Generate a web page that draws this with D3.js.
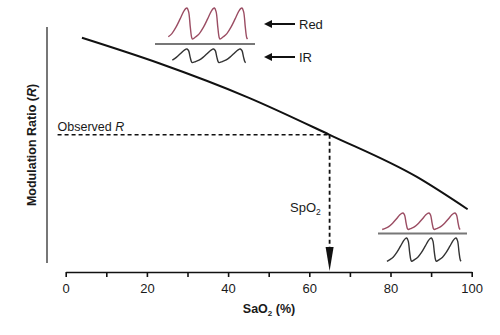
<!DOCTYPE html>
<html><head><meta charset="utf-8">
<script src="https://cdn.jsdelivr.net/npm/d3@7"></script>
<style>body{margin:0;background:#fff}svg{display:block}text{font-family:"Liberation Sans",Arial,sans-serif}</style>
</head><body>
<script>
// calibration curve: SaO2 (%) vs modulation ratio R
const sao2 = [4, 23, 45, 65, 86.5, 99];
const ratioR = [2.39, 2.13, 1.78, 1.40, 0.97, 0.64];
const observedR = 1.40;
const observedSpO2 = 65;
const xTicks = [0,10,20,30,40,50,60,70,80,90,100];
const xTickLabels = ["0","","20","","40","","60","","80","","100"];
// one pulse (phase 0..1, normalised amplitude 0..1); peak near phase 0.8
const pulsePhase = [0, 0.12, 0.25, 0.4, 0.55, 0.67, 0.75, 0.8, 0.86, 0.92, 0.97];
const pulseLevel = [0.03, 0.1, 0.2, 0.4, 0.66, 0.88, 0.98, 1.0, 0.88, 0.4, 0.08];

const W = 500, H = 335;
const svg = d3.select("body").append("svg").attr("width", W).attr("height", H);

const x = d3.scaleLinear().domain([0, 100]).range([65.7, 471.7]);
const y = d3.scaleLinear().domain([0, 2.5]).range([272, 27]);

// y axis line (no ticks)
svg.append("line").attr("x1", 47).attr("x2", 47).attr("y1", 27).attr("y2", 263)
  .attr("stroke", "#777").attr("stroke-width", 2);

// x axis
const xa = svg.append("g").attr("transform", `translate(0,${y(0)})`)
  .call(d3.axisBottom(x).tickValues(xTicks).tickSize(5).tickSizeOuter(0)
    .tickFormat((d, i) => xTickLabels[i]));
xa.select(".domain").attr("stroke", "#111").attr("stroke-width", 1.6);
xa.selectAll(".tick line").attr("stroke", "#111").attr("stroke-width", 1.6);
xa.selectAll(".tick text").attr("font-size", 13).attr("fill", "#1a1a1a")
  .attr("font-family", "Liberation Sans, Arial, sans-serif").attr("dy", "0").attr("y", 21);

// axis titles
const xt = svg.append("text").attr("x", 269).attr("y", 313).attr("text-anchor", "middle")
  .attr("font-size", 12.5).attr("font-weight", "bold").attr("fill", "#1a1a1a");
xt.append("tspan").text("SaO");
xt.append("tspan").text("2").attr("font-size", 8).attr("dy", 3);
xt.append("tspan").text(" (%)").attr("dy", -3);

const yt = svg.append("text").attr("transform", "translate(36,145) rotate(-90)")
  .attr("text-anchor", "middle").attr("font-size", 12.5).attr("font-weight", "bold").attr("fill", "#1a1a1a");
yt.append("tspan").text("Modulation Ratio (");
yt.append("tspan").text("R").attr("font-style", "italic");
yt.append("tspan").text(")");

// calibration curve
const curve = d3.line().x((d, i) => x(sao2[i])).y((d, i) => y(ratioR[i])).curve(d3.curveMonotoneX);
svg.append("path").attr("d", curve(sao2)).attr("fill", "none").attr("stroke", "#111").attr("stroke-width", 2);

// observed R dashed lines
svg.append("line").attr("x1", x(-2)).attr("x2", x(observedSpO2)).attr("y1", y(observedR)).attr("y2", y(observedR))
  .attr("stroke", "#111").attr("stroke-width", 1.6).attr("stroke-dasharray", "4,3");
svg.append("line").attr("x1", x(observedSpO2)).attr("x2", x(observedSpO2)).attr("y1", y(observedR)).attr("y2", y(0) - 24)
  .attr("stroke", "#111").attr("stroke-width", 1.8).attr("stroke-dasharray", "4,3");
svg.append("path").attr("d", `M${x(observedSpO2)-4},${y(0)-25} L${x(observedSpO2)+4},${y(0)-25} L${x(observedSpO2)},${y(0)-1} Z`)
  .attr("fill", "#111");

const ot = svg.append("text").attr("x", x(-2)).attr("y", 131).attr("font-size", 12.5).attr("fill", "#1a1a1a");
ot.append("tspan").text("Observed ");
ot.append("tspan").text("R").attr("font-style", "italic");

const st = svg.append("text").attr("x", 290).attr("y", 212).attr("font-size", 13).attr("fill", "#1a1a1a");
st.append("tspan").text("SpO");
st.append("tspan").text("2").attr("font-size", 8.5).attr("dy", 3);

// waveform insets
function wave(xPeak1, period, tStart, tEnd, yTrough, yPeak, color) {
  const pts = [];
  for (let c = Math.floor(tStart) - 1; c <= Math.ceil(tEnd); c++) {
    for (let k = 0; k < pulsePhase.length; k++) {
      const t = c + pulsePhase[k];
      if (t >= tStart - 0.03 && t <= tEnd + 0.03) pts.push([t, pulseLevel[k]]);
    }
  }
  const sx = d3.scaleLinear().domain([0.8, 1.8]).range([xPeak1, xPeak1 + period]);
  const sy = d3.scaleLinear().domain([0, 1]).range([yTrough, yPeak]);
  svg.append("path").attr("d", d3.line().x(d => sx(d[0])).y(d => sy(d[1])).curve(d3.curveCatmullRom)(pts))
    .attr("fill", "none").attr("stroke", color).attr("stroke-width", 1.4).attr("stroke-linejoin", "round");
}
const redCol = "#9b4d63", irCol = "#333";
wave(187, 27.5, 0.15, 2.97, 40, 8, redCol);
svg.append("line").attr("x1", 155).attr("x2", 255).attr("y1", 44).attr("y2", 44).attr("stroke", "#777").attr("stroke-width", 2);
wave(187, 26.7, 0.16, 3.0, 63, 49, irCol);

wave(403, 26, 0.03, 3.0, 230, 213, redCol);
svg.append("line").attr("x1", 378).attr("x2", 467).attr("y1", 233.5).attr("y2", 233.5).attr("stroke", "#777").attr("stroke-width", 2);
wave(406.7, 24.7, 0.0, 3.0, 262, 238, irCol);

// labelled arrows
function arrow(yy, label) {
  svg.append("line").attr("x1", 295).attr("x2", 270).attr("y1", yy).attr("y2", yy).attr("stroke", "#111").attr("stroke-width", 2);
  svg.append("path").attr("d", `M264,${yy} L272,${yy-4} L272,${yy+4} Z`).attr("fill", "#111");
  svg.append("text").attr("x", 299).attr("y", yy + 5).attr("font-size", 13).attr("fill", "#1a1a1a").text(label);
}
arrow(24, "Red");
arrow(57, "IR");
</script>
</body></html>
